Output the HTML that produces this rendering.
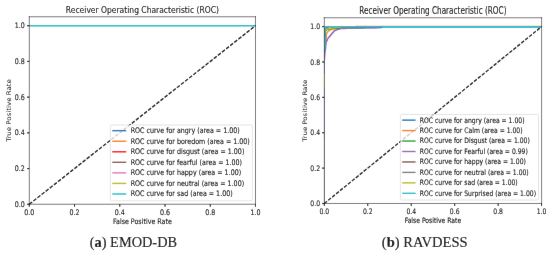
<!DOCTYPE html>
<html><head><meta charset="utf-8"><style>
html,body{margin:0;padding:0;background:#fff;}
body{width:550px;height:253px;overflow:hidden;position:relative;}
svg{position:absolute;left:0;top:0;}
svg text{stroke:#000;stroke-width:0.12px;}
svg text[transform^="rotate(-90"]{stroke-width:0;}
.cap{position:absolute;font-family:"Liberation Serif","DejaVu Serif",serif;color:#000;white-space:nowrap;line-height:1;}
.cap b{font-weight:bold;}
</style></head><body>
<svg width="550" height="253" viewBox="0 0 550 253">
<defs><filter id="bl" x="0" y="0" width="550" height="253" filterUnits="userSpaceOnUse"><feConvolveMatrix order="3" kernelMatrix="0.00163 0.03713 0.00163 0.03713 0.84497 0.03713 0.00163 0.03713 0.00163" divisor="1" edgeMode="duplicate"/></filter></defs>
<g filter="url(#bl)"><rect x="0" y="0" width="550" height="253" fill="#fff"/>
<g transform="translate(-7.184 -12.447) scale(0.6334 0.70451)">
<defs>
<style type="text/css">*{stroke-linejoin: round; stroke-linecap: butt}</style>
</defs>
<g id="Lfigure_1">
<g id="Laxes_1">
<g id="Lpatch_2">
<path d="M 57.6 307.584
L 414.72 307.584
L 414.72 41.472
L 57.6 41.472
z
" style="fill: #ffffff"/>
</g>
<g id="Lmatplotlib.axis_1">
<g id="Lxtick_1">
<g id="Lline2d_1">
<g>
<path d="M 0 0
L 0 3.5
" transform="translate(57.6 307.584)" style="stroke: #000000; stroke-width: 1.6"/>
</g>
</g>
<g id="Ltext_1">
<text style="font-size: 10px; font-family: 'DejaVu Sans', 'Liberation Sans', sans-serif; text-anchor: middle" x="57.6" y="322.182437" transform="translate(57.6 322.182437) scale(1 1.08) translate(-57.6 -322.182437)">0.0</text>
</g>
</g>
<g id="Lxtick_2">
<g id="Lline2d_2">
<g>
<path d="M 0 0
L 0 3.5
" transform="translate(129.024 307.584)" style="stroke: #000000; stroke-width: 1.6"/>
</g>
</g>
<g id="Ltext_2">
<text style="font-size: 10px; font-family: 'DejaVu Sans', 'Liberation Sans', sans-serif; text-anchor: middle" x="129.024" y="322.182437" transform="translate(129.024 322.182437) scale(1 1.08) translate(-129.024 -322.182437)">0.2</text>
</g>
</g>
<g id="Lxtick_3">
<g id="Lline2d_3">
<g>
<path d="M 0 0
L 0 3.5
" transform="translate(200.448 307.584)" style="stroke: #000000; stroke-width: 1.6"/>
</g>
</g>
<g id="Ltext_3">
<text style="font-size: 10px; font-family: 'DejaVu Sans', 'Liberation Sans', sans-serif; text-anchor: middle" x="200.448" y="322.182437" transform="translate(200.448 322.182437) scale(1 1.08) translate(-200.448 -322.182437)">0.4</text>
</g>
</g>
<g id="Lxtick_4">
<g id="Lline2d_4">
<g>
<path d="M 0 0
L 0 3.5
" transform="translate(271.872 307.584)" style="stroke: #000000; stroke-width: 1.6"/>
</g>
</g>
<g id="Ltext_4">
<text style="font-size: 10px; font-family: 'DejaVu Sans', 'Liberation Sans', sans-serif; text-anchor: middle" x="271.872" y="322.182437" transform="translate(271.872 322.182437) scale(1 1.08) translate(-271.872 -322.182437)">0.6</text>
</g>
</g>
<g id="Lxtick_5">
<g id="Lline2d_5">
<g>
<path d="M 0 0
L 0 3.5
" transform="translate(343.296 307.584)" style="stroke: #000000; stroke-width: 1.6"/>
</g>
</g>
<g id="Ltext_5">
<text style="font-size: 10px; font-family: 'DejaVu Sans', 'Liberation Sans', sans-serif; text-anchor: middle" x="343.296" y="322.182437" transform="translate(343.296 322.182437) scale(1 1.08) translate(-343.296 -322.182437)">0.8</text>
</g>
</g>
<g id="Lxtick_6">
<g id="Lline2d_6">
<g>
<path d="M 0 0
L 0 3.5
" transform="translate(414.72 307.584)" style="stroke: #000000; stroke-width: 1.6"/>
</g>
</g>
<g id="Ltext_6">
<text style="font-size: 10px; font-family: 'DejaVu Sans', 'Liberation Sans', sans-serif; text-anchor: middle" x="414.72" y="322.182437" transform="translate(414.72 322.182437) scale(1 1.08) translate(-414.72 -322.182437)">1.0</text>
</g>
</g>
<g id="Ltext_7">
<text style="font-size: 10px; font-family: 'DejaVu Sans', 'Liberation Sans', sans-serif; text-anchor: middle" x="236.16" y="335.860562" transform="translate(236.16 335.860562) scale(1 1.08) translate(-236.16 -335.860562)">False Positive Rate</text>
</g>
</g>
<g id="Lmatplotlib.axis_2">
<g id="Lytick_1">
<g id="Lline2d_7">
<g>
<path d="M 0 0
L -3.5 0
" transform="translate(57.6 307.584)" style="stroke: #000000; stroke-width: 1.6"/>
</g>
</g>
<g id="Ltext_8">
<text style="font-size: 10px; font-family: 'DejaVu Sans', 'Liberation Sans', sans-serif; text-anchor: end" x="50.6" y="311.383219" transform="translate(50.6 311.383219) scale(1 1.08) translate(-50.6 -311.383219)">0.0</text>
</g>
</g>
<g id="Lytick_2">
<g id="Lline2d_8">
<g>
<path d="M 0 0
L -3.5 0
" transform="translate(57.6 256.896)" style="stroke: #000000; stroke-width: 1.6"/>
</g>
</g>
<g id="Ltext_9">
<text style="font-size: 10px; font-family: 'DejaVu Sans', 'Liberation Sans', sans-serif; text-anchor: end" x="50.6" y="260.695219" transform="translate(50.6 260.695219) scale(1 1.08) translate(-50.6 -260.695219)">0.2</text>
</g>
</g>
<g id="Lytick_3">
<g id="Lline2d_9">
<g>
<path d="M 0 0
L -3.5 0
" transform="translate(57.6 206.208)" style="stroke: #000000; stroke-width: 1.6"/>
</g>
</g>
<g id="Ltext_10">
<text style="font-size: 10px; font-family: 'DejaVu Sans', 'Liberation Sans', sans-serif; text-anchor: end" x="50.6" y="210.007219" transform="translate(50.6 210.007219) scale(1 1.08) translate(-50.6 -210.007219)">0.4</text>
</g>
</g>
<g id="Lytick_4">
<g id="Lline2d_10">
<g>
<path d="M 0 0
L -3.5 0
" transform="translate(57.6 155.52)" style="stroke: #000000; stroke-width: 1.6"/>
</g>
</g>
<g id="Ltext_11">
<text style="font-size: 10px; font-family: 'DejaVu Sans', 'Liberation Sans', sans-serif; text-anchor: end" x="50.6" y="159.319219" transform="translate(50.6 159.319219) scale(1 1.08) translate(-50.6 -159.319219)">0.6</text>
</g>
</g>
<g id="Lytick_5">
<g id="Lline2d_11">
<g>
<path d="M 0 0
L -3.5 0
" transform="translate(57.6 104.832)" style="stroke: #000000; stroke-width: 1.6"/>
</g>
</g>
<g id="Ltext_12">
<text style="font-size: 10px; font-family: 'DejaVu Sans', 'Liberation Sans', sans-serif; text-anchor: end" x="50.6" y="108.631219" transform="translate(50.6 108.631219) scale(1 1.08) translate(-50.6 -108.631219)">0.8</text>
</g>
</g>
<g id="Lytick_6">
<g id="Lline2d_12">
<g>
<path d="M 0 0
L -3.5 0
" transform="translate(57.6 54.144)" style="stroke: #000000; stroke-width: 1.6"/>
</g>
</g>
<g id="Ltext_13">
<text style="font-size: 10px; font-family: 'DejaVu Sans', 'Liberation Sans', sans-serif; text-anchor: end" x="50.6" y="57.943219" transform="translate(50.6 57.943219) scale(1 1.08) translate(-50.6 -57.943219)">1.0</text>
</g>
</g>
<g id="Ltext_14">
<text style="font-size: 10px; font-family: 'DejaVu Sans', 'Liberation Sans', sans-serif; text-anchor: middle" x="28.617187" y="174.528" transform="rotate(-90 28.617187 174.528)">True Positive Rate</text>
</g>
</g>
<g id="Lline2d_13"/>
<g id="Lline2d_14"/>
<g id="Lline2d_15"/>
<g id="Lline2d_16"/>
<g id="Lline2d_17"/>
<g id="Lline2d_18"/>
<g id="Lline2d_19">
<path d="M 57.6 54.144
L 414.72 54.144
" clip-path="url(#Lp02d3b5d28d)" style="fill: none; stroke: #17becf; stroke-width: 2; stroke-linecap: square"/>
</g>
<g id="Lline2d_20">
<path d="M 57.6 307.584
L 414.72 54.144
" clip-path="url(#Lp02d3b5d28d)" style="fill: none; stroke-dasharray: 5.557,2.3816; stroke-dashoffset: 0; stroke: #000000; stroke-width: 2"/>
</g>
<g id="Lpatch_3">
<path d="M 57.6 307.584
L 57.6 41.472
" style="fill: none; stroke: #000000; stroke-width: 0.8; stroke-linejoin: miter; stroke-linecap: square"/>
</g>
<g id="Lpatch_4">
<path d="M 414.72 307.584
L 414.72 41.472
" style="fill: none; stroke: #000000; stroke-width: 0.8; stroke-linejoin: miter; stroke-linecap: square"/>
</g>
<g id="Lpatch_5">
<path d="M 57.6 307.584
L 414.72 307.584
" style="fill: none; stroke: #000000; stroke-width: 0.8; stroke-linejoin: miter; stroke-linecap: square"/>
</g>
<g id="Lpatch_6">
<path d="M 57.6 41.472
L 414.72 41.472
" style="fill: none; stroke: #000000; stroke-width: 0.8; stroke-linejoin: miter; stroke-linecap: square"/>
</g>
<g id="Ltext_15">
<text style="font-size: 12px; font-family: 'DejaVu Sans', 'Liberation Sans', sans-serif; text-anchor: middle" x="236.16" y="36.172" transform="translate(236.16 36.172) scale(1 1.0) translate(-236.16 -36.172)">Receiver Operating Characteristic (ROC)</text>
</g>
<g id="Llegend_1">
<g id="Lpatch_7">
<path d="M 187.621562 302.584
L 407.72 302.584
Q 409.72 302.584 409.72 300.584
L 409.72 197.037125
Q 409.72 195.037125 407.72 195.037125
L 187.621562 195.037125
Q 185.621562 195.037125 185.621562 197.037125
L 185.621562 300.584
Q 185.621562 302.584 187.621562 302.584
z
" style="fill: #ffffff; opacity: 0.8; stroke: #cccccc; stroke-linejoin: miter"/>
</g>
<g id="Lline2d_21">
<path d="M 189.621562 203.135562
L 199.621562 203.135562
L 209.621562 203.135562
" style="fill: none; stroke: #1f77b4; stroke-width: 2; stroke-linecap: square"/>
</g>
<g id="Ltext_16">
<text style="font-size: 10px; font-family: 'DejaVu Sans', 'Liberation Sans', sans-serif; text-anchor: start" x="217.621562" y="206.635562" transform="translate(217.621562 206.635562) scale(1 1.08) translate(-217.621562 -206.635562)">ROC curve for angry (area = 1.00)</text>
</g>
<g id="Lline2d_22">
<path d="M 189.621562 218.113687
L 199.621562 218.113687
L 209.621562 218.113687
" style="fill: none; stroke: #ff7f0e; stroke-width: 2; stroke-linecap: square"/>
</g>
<g id="Ltext_17">
<text style="font-size: 10px; font-family: 'DejaVu Sans', 'Liberation Sans', sans-serif; text-anchor: start" x="217.621562" y="221.613687" transform="translate(217.621562 221.613687) scale(1 1.08) translate(-217.621562 -221.613687)">ROC curve for boredom (area = 1.00)</text>
</g>
<g id="Lline2d_23">
<path d="M 189.621562 233.091812
L 199.621562 233.091812
L 209.621562 233.091812
" style="fill: none; stroke: #ff0000; stroke-width: 2; stroke-linecap: square"/>
</g>
<g id="Ltext_18">
<text style="font-size: 10px; font-family: 'DejaVu Sans', 'Liberation Sans', sans-serif; text-anchor: start" x="217.621562" y="236.591812" transform="translate(217.621562 236.591812) scale(1 1.08) translate(-217.621562 -236.591812)">ROC curve for disgust (area = 1.00)</text>
</g>
<g id="Lline2d_24">
<path d="M 189.621562 248.069937
L 199.621562 248.069937
L 209.621562 248.069937
" style="fill: none; stroke: #8c564b; stroke-width: 2; stroke-linecap: square"/>
</g>
<g id="Ltext_19">
<text style="font-size: 10px; font-family: 'DejaVu Sans', 'Liberation Sans', sans-serif; text-anchor: start" x="217.621562" y="251.569937" transform="translate(217.621562 251.569937) scale(1 1.08) translate(-217.621562 -251.569937)">ROC curve for fearful (area = 1.00)</text>
</g>
<g id="Lline2d_25">
<path d="M 189.621562 263.048062
L 199.621562 263.048062
L 209.621562 263.048062
" style="fill: none; stroke: #e377c2; stroke-width: 2; stroke-linecap: square"/>
</g>
<g id="Ltext_20">
<text style="font-size: 10px; font-family: 'DejaVu Sans', 'Liberation Sans', sans-serif; text-anchor: start" x="217.621562" y="266.548062" transform="translate(217.621562 266.548062) scale(1 1.08) translate(-217.621562 -266.548062)">ROC curve for happy (area = 1.00)</text>
</g>
<g id="Lline2d_26">
<path d="M 189.621562 278.026187
L 199.621562 278.026187
L 209.621562 278.026187
" style="fill: none; stroke: #bcbd22; stroke-width: 2; stroke-linecap: square"/>
</g>
<g id="Ltext_21">
<text style="font-size: 10px; font-family: 'DejaVu Sans', 'Liberation Sans', sans-serif; text-anchor: start" x="217.621562" y="281.526187" transform="translate(217.621562 281.526187) scale(1 1.08) translate(-217.621562 -281.526187)">ROC curve for neutral (area = 1.00)</text>
</g>
<g id="Lline2d_27">
<path d="M 189.621562 293.004312
L 199.621562 293.004312
L 209.621562 293.004312
" style="fill: none; stroke: #17becf; stroke-width: 2; stroke-linecap: square"/>
</g>
<g id="Ltext_22">
<text style="font-size: 10px; font-family: 'DejaVu Sans', 'Liberation Sans', sans-serif; text-anchor: start" x="217.621562" y="296.504312" transform="translate(217.621562 296.504312) scale(1 1.08) translate(-217.621562 -296.504312)">ROC curve for sad (area = 1.00)</text>
</g>
</g>
</g>
</g>
<defs>
<clipPath id="Lp02d3b5d28d">
<rect x="57.6" y="41.472" width="357.12" height="266.112"/>
</clipPath>
</defs>
</g>
<g transform="translate(289.25 -11.197) scale(0.60848 0.698)">
<defs>
<style type="text/css">*{stroke-linejoin: round; stroke-linecap: butt}</style>
</defs>
<g id="Rfigure_1">
<g id="Raxes_1">
<g id="Rpatch_2">
<path d="M 57.6 307.584
L 414.72 307.584
L 414.72 41.472
L 57.6 41.472
z
" style="fill: #ffffff"/>
</g>
<g id="Rmatplotlib.axis_1">
<g id="Rxtick_1">
<g id="Rline2d_1">
<g>
<path d="M 0 0
L 0 3.5
" transform="translate(57.6 307.584)" style="stroke: #000000; stroke-width: 1.6"/>
</g>
</g>
<g id="Rtext_1">
<text style="font-size: 10px; font-family: 'DejaVu Sans', 'Liberation Sans', sans-serif; text-anchor: middle" x="57.6" y="322.182437" transform="translate(57.6 322.182437) scale(1 1.08) translate(-57.6 -322.182437)">0.0</text>
</g>
</g>
<g id="Rxtick_2">
<g id="Rline2d_2">
<g>
<path d="M 0 0
L 0 3.5
" transform="translate(129.024 307.584)" style="stroke: #000000; stroke-width: 1.6"/>
</g>
</g>
<g id="Rtext_2">
<text style="font-size: 10px; font-family: 'DejaVu Sans', 'Liberation Sans', sans-serif; text-anchor: middle" x="129.024" y="322.182437" transform="translate(129.024 322.182437) scale(1 1.08) translate(-129.024 -322.182437)">0.2</text>
</g>
</g>
<g id="Rxtick_3">
<g id="Rline2d_3">
<g>
<path d="M 0 0
L 0 3.5
" transform="translate(200.448 307.584)" style="stroke: #000000; stroke-width: 1.6"/>
</g>
</g>
<g id="Rtext_3">
<text style="font-size: 10px; font-family: 'DejaVu Sans', 'Liberation Sans', sans-serif; text-anchor: middle" x="200.448" y="322.182437" transform="translate(200.448 322.182437) scale(1 1.08) translate(-200.448 -322.182437)">0.4</text>
</g>
</g>
<g id="Rxtick_4">
<g id="Rline2d_4">
<g>
<path d="M 0 0
L 0 3.5
" transform="translate(271.872 307.584)" style="stroke: #000000; stroke-width: 1.6"/>
</g>
</g>
<g id="Rtext_4">
<text style="font-size: 10px; font-family: 'DejaVu Sans', 'Liberation Sans', sans-serif; text-anchor: middle" x="271.872" y="322.182437" transform="translate(271.872 322.182437) scale(1 1.08) translate(-271.872 -322.182437)">0.6</text>
</g>
</g>
<g id="Rxtick_5">
<g id="Rline2d_5">
<g>
<path d="M 0 0
L 0 3.5
" transform="translate(343.296 307.584)" style="stroke: #000000; stroke-width: 1.6"/>
</g>
</g>
<g id="Rtext_5">
<text style="font-size: 10px; font-family: 'DejaVu Sans', 'Liberation Sans', sans-serif; text-anchor: middle" x="343.296" y="322.182437" transform="translate(343.296 322.182437) scale(1 1.08) translate(-343.296 -322.182437)">0.8</text>
</g>
</g>
<g id="Rxtick_6">
<g id="Rline2d_6">
<g>
<path d="M 0 0
L 0 3.5
" transform="translate(414.72 307.584)" style="stroke: #000000; stroke-width: 1.6"/>
</g>
</g>
<g id="Rtext_6">
<text style="font-size: 10px; font-family: 'DejaVu Sans', 'Liberation Sans', sans-serif; text-anchor: middle" x="414.72" y="322.182437" transform="translate(414.72 322.182437) scale(1 1.08) translate(-414.72 -322.182437)">1.0</text>
</g>
</g>
<g id="Rtext_7">
<text style="font-size: 10px; font-family: 'DejaVu Sans', 'Liberation Sans', sans-serif; text-anchor: middle" x="236.16" y="335.860562" transform="translate(236.16 335.860562) scale(1 1.08) translate(-236.16 -335.860562)">False Positive Rate</text>
</g>
</g>
<g id="Rmatplotlib.axis_2">
<g id="Rytick_1">
<g id="Rline2d_7">
<g>
<path d="M 0 0
L -3.5 0
" transform="translate(57.6 307.584)" style="stroke: #000000; stroke-width: 1.6"/>
</g>
</g>
<g id="Rtext_8">
<text style="font-size: 10px; font-family: 'DejaVu Sans', 'Liberation Sans', sans-serif; text-anchor: end" x="50.6" y="311.383219" transform="translate(50.6 311.383219) scale(1 1.08) translate(-50.6 -311.383219)">0.0</text>
</g>
</g>
<g id="Rytick_2">
<g id="Rline2d_8">
<g>
<path d="M 0 0
L -3.5 0
" transform="translate(57.6 256.896)" style="stroke: #000000; stroke-width: 1.6"/>
</g>
</g>
<g id="Rtext_9">
<text style="font-size: 10px; font-family: 'DejaVu Sans', 'Liberation Sans', sans-serif; text-anchor: end" x="50.6" y="260.695219" transform="translate(50.6 260.695219) scale(1 1.08) translate(-50.6 -260.695219)">0.2</text>
</g>
</g>
<g id="Rytick_3">
<g id="Rline2d_9">
<g>
<path d="M 0 0
L -3.5 0
" transform="translate(57.6 206.208)" style="stroke: #000000; stroke-width: 1.6"/>
</g>
</g>
<g id="Rtext_10">
<text style="font-size: 10px; font-family: 'DejaVu Sans', 'Liberation Sans', sans-serif; text-anchor: end" x="50.6" y="210.007219" transform="translate(50.6 210.007219) scale(1 1.08) translate(-50.6 -210.007219)">0.4</text>
</g>
</g>
<g id="Rytick_4">
<g id="Rline2d_10">
<g>
<path d="M 0 0
L -3.5 0
" transform="translate(57.6 155.52)" style="stroke: #000000; stroke-width: 1.6"/>
</g>
</g>
<g id="Rtext_11">
<text style="font-size: 10px; font-family: 'DejaVu Sans', 'Liberation Sans', sans-serif; text-anchor: end" x="50.6" y="159.319219" transform="translate(50.6 159.319219) scale(1 1.08) translate(-50.6 -159.319219)">0.6</text>
</g>
</g>
<g id="Rytick_5">
<g id="Rline2d_11">
<g>
<path d="M 0 0
L -3.5 0
" transform="translate(57.6 104.832)" style="stroke: #000000; stroke-width: 1.6"/>
</g>
</g>
<g id="Rtext_12">
<text style="font-size: 10px; font-family: 'DejaVu Sans', 'Liberation Sans', sans-serif; text-anchor: end" x="50.6" y="108.631219" transform="translate(50.6 108.631219) scale(1 1.08) translate(-50.6 -108.631219)">0.8</text>
</g>
</g>
<g id="Rytick_6">
<g id="Rline2d_12">
<g>
<path d="M 0 0
L -3.5 0
" transform="translate(57.6 54.144)" style="stroke: #000000; stroke-width: 1.6"/>
</g>
</g>
<g id="Rtext_13">
<text style="font-size: 10px; font-family: 'DejaVu Sans', 'Liberation Sans', sans-serif; text-anchor: end" x="50.6" y="57.943219" transform="translate(50.6 57.943219) scale(1 1.08) translate(-50.6 -57.943219)">1.0</text>
</g>
</g>
<g id="Rtext_14">
<text style="font-size: 10px; font-family: 'DejaVu Sans', 'Liberation Sans', sans-serif; text-anchor: middle" x="28.617187" y="174.528" transform="rotate(-90 28.617187 174.528)">True Positive Rate</text>
</g>
</g>
<g id="Rline2d_13">
<path d="M 111.168 53.25696
L 414.72 53.25696
" clip-path="url(#Rp02d3b5d28d)" style="fill: none; stroke: #ffd8bf; stroke-width: 2; stroke-linecap: square"/>
</g>
<g id="Rline2d_14">
<path d="M 150.4512 54.7776
L 414.72 54.7776
" clip-path="url(#Rp02d3b5d28d)" style="fill: none; stroke: #1f9fc4; stroke-width: 2; stroke-linecap: square"/>
</g>
<g id="Rline2d_15">
<path d="M 57.6 307.584
L 57.6 211.2768
" clip-path="url(#Rp02d3b5d28d)" style="fill: none; stroke: #b08070; stroke-width: 2; stroke-linecap: square"/>
</g>
<g id="Rline2d_16">
<path d="M 57.6 211.2768
L 57.6 142.848
" clip-path="url(#Rp02d3b5d28d)" style="fill: none; stroke: #9467bd; stroke-width: 2; stroke-linecap: square"/>
</g>
<g id="Rline2d_17">
<path d="M 57.6 142.848
L 57.6 120.0384
" clip-path="url(#Rp02d3b5d28d)" style="fill: none; stroke: #bcbd22; stroke-width: 2; stroke-linecap: square"/>
</g>
<g id="Rline2d_18">
<path d="M 57.6 120.0384
L 57.6 89.6256
" clip-path="url(#Rp02d3b5d28d)" style="fill: none; stroke: #1f77b4; stroke-width: 2; stroke-linecap: square"/>
</g>
<g id="Rline2d_19">
<path d="M 57.6 89.6256
L 57.6 61.7472
" clip-path="url(#Rp02d3b5d28d)" style="fill: none; stroke: #17becf; stroke-width: 2; stroke-linecap: square"/>
</g>
<g id="Rline2d_20">
<path d="M 57.6 89.6256
L 59.74272 87.0912
L 59.74272 60.48
L 61.88544 57.9456
L 64.7424 56.6784
L 75.456 55.4112
L 151.16544 55.4112
L 152.59392 54.144
" clip-path="url(#Rp02d3b5d28d)" style="fill: none; stroke: #1f77b4; stroke-width: 2; stroke-linecap: square"/>
</g>
<g id="Rline2d_21">
<path d="M 57.6 84.5568
L 59.74272 79.488
L 60.45696 71.8848
L 61.1712 65.5488
L 62.59968 62.25408
L 64.7424 60.22656
L 69.38496 58.19904
L 79.0272 56.6784
L 93.312 55.4112
L 111.168 54.144
" clip-path="url(#Rp02d3b5d28d)" style="fill: none; stroke: #ff7f0e; stroke-width: 2; stroke-linecap: square"/>
</g>
<g id="Rline2d_22">
<path d="M 57.6 66.816
L 59.02848 60.48
L 62.9568 57.9456
L 71.8848 56.6784
L 123.6672 55.91808
L 125.4528 54.144
" clip-path="url(#Rp02d3b5d28d)" style="fill: none; stroke: #2ca02c; stroke-width: 2; stroke-linecap: square"/>
</g>
<g id="Rline2d_23">
<path d="M 57.6 104.832
L 59.02848 89.6256
L 60.2784 79.488
L 60.99264 75.6864
L 61.52832 75.6864
L 61.52832 73.91232
L 62.59968 73.91232
L 62.59968 72.39168
L 63.31392 72.39168
L 63.31392 70.6176
L 64.38528 70.6176
L 64.38528 69.85728
L 65.45664 69.85728
L 65.45664 68.59008
L 66.528 68.59008
L 66.528 67.32288
L 67.95648 67.32288
L 67.95648 65.80224
L 69.38496 65.80224
L 69.38496 64.2816
L 70.81344 64.2816
L 70.81344 63.0144
L 72.24192 63.0144
L 72.24192 61.24032
L 74.02752 61.24032
L 74.02752 59.71968
L 76.17024 59.71968
L 76.17024 58.95936
L 78.67008 58.95936
L 78.67008 58.19904
L 82.5984 58.19904
L 82.5984 56.93184
L 93.312 56.93184
L 93.312 56.0448
L 138.30912 56.0448
L 138.30912 55.79136
L 143.3088 55.79136
L 143.3088 55.66464
L 146.88 55.66464
L 146.88 54.144
" clip-path="url(#Rp02d3b5d28d)" style="fill: none; stroke: #9467bd; stroke-width: 2; stroke-linecap: square"/>
</g>
<g id="Rline2d_24">
<path d="M 57.6 59.2128
L 59.3856 56.6784
L 64.7424 54.144
" clip-path="url(#Rp02d3b5d28d)" style="fill: none; stroke: #8c564b; stroke-width: 2; stroke-linecap: square"/>
</g>
<g id="Rline2d_25">
<path d="M 57.6 57.9456
L 59.3856 55.4112
L 64.7424 54.144
" clip-path="url(#Rp02d3b5d28d)" style="fill: none; stroke: #7f7f7f; stroke-width: 2; stroke-linecap: square"/>
</g>
<g id="Rline2d_26">
<path d="M 57.6 66.816
L 58.67136 60.48
L 61.1712 57.9456
L 68.3136 56.6784
L 86.1696 54.144
" clip-path="url(#Rp02d3b5d28d)" style="fill: none; stroke: #bcbd22; stroke-width: 2; stroke-linecap: square"/>
</g>
<g id="Rline2d_27">
<path d="M 57.6 87.0912
L 58.67136 87.0912
L 58.67136 55.4112
L 61.1712 54.144
L 414.72 54.144
" clip-path="url(#Rp02d3b5d28d)" style="fill: none; stroke: #17becf; stroke-width: 2; stroke-linecap: square"/>
</g>
<g id="Rline2d_28">
<path d="M 57.6 307.584
L 414.72 54.144
" clip-path="url(#Rp02d3b5d28d)" style="fill: none; stroke-dasharray: 5.557,2.3816; stroke-dashoffset: 0; stroke: #000000; stroke-width: 2"/>
</g>
<g id="Rpatch_3">
<path d="M 57.6 307.584
L 57.6 41.472
" style="fill: none; stroke: #000000; stroke-width: 0.8; stroke-linejoin: miter; stroke-linecap: square"/>
</g>
<g id="Rpatch_4">
<path d="M 414.72 307.584
L 414.72 41.472
" style="fill: none; stroke: #000000; stroke-width: 0.8; stroke-linejoin: miter; stroke-linecap: square"/>
</g>
<g id="Rpatch_5">
<path d="M 57.6 307.584
L 414.72 307.584
" style="fill: none; stroke: #000000; stroke-width: 0.8; stroke-linejoin: miter; stroke-linecap: square"/>
</g>
<g id="Rpatch_6">
<path d="M 57.6 41.472
L 414.72 41.472
" style="fill: none; stroke: #000000; stroke-width: 0.8; stroke-linejoin: miter; stroke-linecap: square"/>
</g>
<g id="Rtext_15">
<text style="font-size: 12px; font-family: 'DejaVu Sans', 'Liberation Sans', sans-serif; text-anchor: middle" x="236.16" y="36.072" transform="translate(236.16 36.072) scale(1 1.15) translate(-236.16 -36.072)">Receiver Operating Characteristic (ROC)</text>
</g>
<g id="Rlegend_1">
<g id="Rpatch_7">
<path d="M 184.590312 302.584
L 407.72 302.584
Q 409.72 302.584 409.72 300.584
L 409.72 182.059
Q 409.72 180.059 407.72 180.059
L 184.590312 180.059
Q 182.590312 180.059 182.590312 182.059
L 182.590312 300.584
Q 182.590312 302.584 184.590312 302.584
z
" style="fill: #ffffff; opacity: 0.8; stroke: #cccccc; stroke-linejoin: miter"/>
</g>
<g id="Rline2d_29">
<path d="M 186.590312 188.157437
L 196.590312 188.157437
L 206.590312 188.157437
" style="fill: none; stroke: #1f77b4; stroke-width: 2; stroke-linecap: square"/>
</g>
<g id="Rtext_16">
<text style="font-size: 10px; font-family: 'DejaVu Sans', 'Liberation Sans', sans-serif; text-anchor: start" x="214.590312" y="191.657437" transform="translate(214.590312 191.657437) scale(1 1.08) translate(-214.590312 -191.657437)">ROC curve for angry (area = 1.00)</text>
</g>
<g id="Rline2d_30">
<path d="M 186.590312 203.135562
L 196.590312 203.135562
L 206.590312 203.135562
" style="fill: none; stroke: #ff7f0e; stroke-width: 2; stroke-linecap: square"/>
</g>
<g id="Rtext_17">
<text style="font-size: 10px; font-family: 'DejaVu Sans', 'Liberation Sans', sans-serif; text-anchor: start" x="214.590312" y="206.635562" transform="translate(214.590312 206.635562) scale(1 1.08) translate(-214.590312 -206.635562)">ROC curve for Calm (area = 1.00)</text>
</g>
<g id="Rline2d_31">
<path d="M 186.590312 218.113687
L 196.590312 218.113687
L 206.590312 218.113687
" style="fill: none; stroke: #2ca02c; stroke-width: 2; stroke-linecap: square"/>
</g>
<g id="Rtext_18">
<text style="font-size: 10px; font-family: 'DejaVu Sans', 'Liberation Sans', sans-serif; text-anchor: start" x="214.590312" y="221.613687" transform="translate(214.590312 221.613687) scale(1 1.08) translate(-214.590312 -221.613687)">ROC curve for Disgust (area = 1.00)</text>
</g>
<g id="Rline2d_32">
<path d="M 186.590312 233.091812
L 196.590312 233.091812
L 206.590312 233.091812
" style="fill: none; stroke: #9467bd; stroke-width: 2; stroke-linecap: square"/>
</g>
<g id="Rtext_19">
<text style="font-size: 10px; font-family: 'DejaVu Sans', 'Liberation Sans', sans-serif; text-anchor: start" x="214.590312" y="236.591812" transform="translate(214.590312 236.591812) scale(1 1.08) translate(-214.590312 -236.591812)">ROC curve for Fearful (area = 0.99)</text>
</g>
<g id="Rline2d_33">
<path d="M 186.590312 248.069937
L 196.590312 248.069937
L 206.590312 248.069937
" style="fill: none; stroke: #8c564b; stroke-width: 2; stroke-linecap: square"/>
</g>
<g id="Rtext_20">
<text style="font-size: 10px; font-family: 'DejaVu Sans', 'Liberation Sans', sans-serif; text-anchor: start" x="214.590312" y="251.569937" transform="translate(214.590312 251.569937) scale(1 1.08) translate(-214.590312 -251.569937)">ROC curve for happy (area = 1.00)</text>
</g>
<g id="Rline2d_34">
<path d="M 186.590312 263.048062
L 196.590312 263.048062
L 206.590312 263.048062
" style="fill: none; stroke: #7f7f7f; stroke-width: 2; stroke-linecap: square"/>
</g>
<g id="Rtext_21">
<text style="font-size: 10px; font-family: 'DejaVu Sans', 'Liberation Sans', sans-serif; text-anchor: start" x="214.590312" y="266.548062" transform="translate(214.590312 266.548062) scale(1 1.08) translate(-214.590312 -266.548062)">ROC curve for neutral (area = 1.00)</text>
</g>
<g id="Rline2d_35">
<path d="M 186.590312 278.026187
L 196.590312 278.026187
L 206.590312 278.026187
" style="fill: none; stroke: #bcbd22; stroke-width: 2; stroke-linecap: square"/>
</g>
<g id="Rtext_22">
<text style="font-size: 10px; font-family: 'DejaVu Sans', 'Liberation Sans', sans-serif; text-anchor: start" x="214.590312" y="281.526187" transform="translate(214.590312 281.526187) scale(1 1.08) translate(-214.590312 -281.526187)">ROC curve for sad (area = 1.00)</text>
</g>
<g id="Rline2d_36">
<path d="M 186.590312 293.004312
L 196.590312 293.004312
L 206.590312 293.004312
" style="fill: none; stroke: #17becf; stroke-width: 2; stroke-linecap: square"/>
</g>
<g id="Rtext_23">
<text style="font-size: 10px; font-family: 'DejaVu Sans', 'Liberation Sans', sans-serif; text-anchor: start" x="214.590312" y="296.504312" transform="translate(214.590312 296.504312) scale(1 1.08) translate(-214.590312 -296.504312)">ROC curve for Surprised (area = 1.00)</text>
</g>
</g>
</g>
</g>
<defs>
<clipPath id="Rp02d3b5d28d">
<rect x="57.6" y="41.472" width="357.12" height="266.112"/>
</clipPath>
</defs>
</g>
<text x="89.8" y="246.7" textLength="87.3" lengthAdjust="spacingAndGlyphs" style="font-family:'Liberation Serif',serif;font-size:14px;fill:#000;stroke:#000;stroke-width:0.1px">(<tspan font-weight="bold">a</tspan>) EMOD-DB</text>
<text x="381.8" y="246.7" textLength="85.8" lengthAdjust="spacingAndGlyphs" style="font-family:'Liberation Serif',serif;font-size:14px;fill:#000;stroke:#000;stroke-width:0.1px">(<tspan font-weight="bold">b</tspan>) RAVDESS</text>
</g>
</svg>
</body></html>
